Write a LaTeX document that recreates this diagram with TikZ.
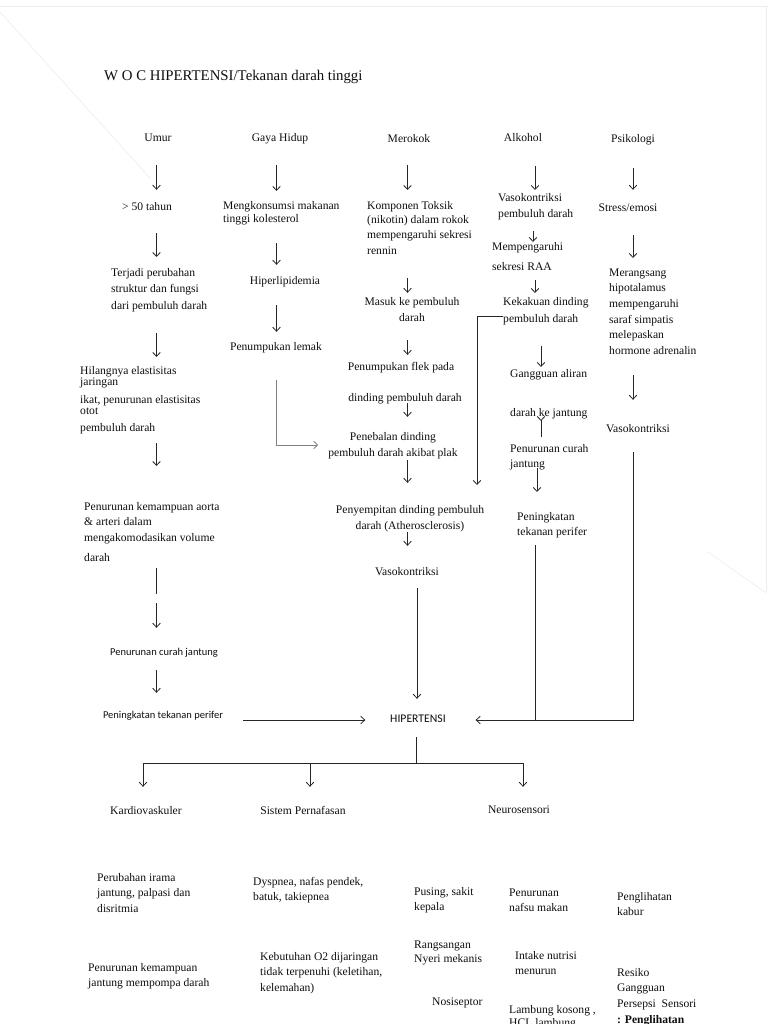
\documentclass[tikz,border=0pt]{standalone}
\usepackage{fontspec}
\setmainfont{Liberation Serif}
\newfontfamily\calfont{Carlito}
\usetikzlibrary{arrows.meta}
\newcommand\bodyf{\fontsize{11.6}{15.6}\selectfont}
\newcommand\sansf{\calfont\fontsize{10.5}{13}\selectfont}
\newcommand\hipf{\calfont\fontsize{11.7}{14}\selectfont}
\newcommand\va[5]{\draw[arr,shorten <=#4pt,shorten >=#5pt] (#1.south -| #3) -- (#2.north -| #3);}
\tikzset{
  txt/.style={inner sep=0pt, font=\bodyf, text=black!94},
  lt/.style={txt, align=left, anchor=north west},
  ct/.style={txt, align=center},
  sf/.style={inner sep=0pt, font=\sansf, text=black!94},
  arr/.style={draw=black!85, line width=0.8pt, -{Straight Barb[length=4pt,width=7.5pt]}},
  ln/.style={draw=black!85, line width=0.8pt},
  faint/.style={draw=black!7, line width=0.6pt}
}
\begin{document}
\begin{tikzpicture}[x=1pt,y=-1pt]
\useasboundingbox (0,0) rectangle (768,1024);
\clip (0,0) rectangle (768,1024);
\fill[white] (0,0) rectangle (768,1024);
% faint page artefacts
\draw[faint] (0,6) -- (768,6);
\draw[faint] (0,12) -- (150,178);
\draw[faint] (766,6) -- (766,592);
\draw[faint] (708,552) -- (766,593);

% axes
\coordinate (c1) at (156.5,0);
\coordinate (c2) at (276.5,0);
\coordinate (c3) at (407.5,0);
\coordinate (c3b) at (417,0);
\coordinate (c4) at (535,0);
\coordinate (c4a) at (533,0);
\coordinate (c4b) at (541,0);
\coordinate (c4c) at (537,0);
\coordinate (c4L) at (477,0);
\coordinate (c5) at (633,0);

% title
\node[txt, anchor=west, font=\fontsize{14.8}{17}\selectfont] (title) at (104,77) {W O C HIPERTENSI/Tekanan darah tinggi};

% headings
\node[ct] (umur) at (158,138) {\strut Umur};
\node[ct] (gaya) at (280,138) {\strut Gaya Hidup};
\node[ct] (rokok) at (409,139) {\strut Merokok};
\node[ct] (alko) at (523,138) {\strut Alkohol};
\node[ct] (psi) at (633,139) {\strut Psikologi};

% column 1
\node[ct] (g50) at (147,207) {\strut > 50 tahun};
\node[lt] (terjadi) at (111,265.2) {\strut Terjadi perubahan\\[0.9pt]\strut struktur dan fungsi\\[0.9pt]\strut dari pembuluh darah};
\node[lt] (hilang) at (80,363.2) {\strut Hilangnya elastisitas\\[-4.6pt]\strut jaringan\\[2.4pt]\strut ikat, penurunan elastisitas\\[-4.6pt]\strut otot\\[1.4pt]\strut pembuluh darah};
\node[lt] (aorta) at (84,499.2) {\strut Penurunan kemampuan aorta\\[-0.6pt]\strut \& arteri dalam\\[0.4pt]\strut mengakomodasikan volume\\[4.4pt]\strut darah};
\node[sf] (pcj1) at (164,653) {\strut Penurunan curah jantung};
\node[sf] (ptp1) at (163,716) {\strut Peningkatan tekanan perifer};

% column 2
\node[lt] (mkm) at (223,198.2) {\strut Mengkonsumsi makanan\\[-2.6pt]\strut tinggi kolesterol};
\node[ct] (hiper) at (285,281) {\strut Hiperlipidemia};
\node[ct] (lemak) at (276,347) {\strut Penumpukan lemak};

% column 3
\node[lt] (komp) at (367,198.2) {\strut Komponen Toksik\\[-1.6pt]\strut (nikotin) dalam rokok\\[-0.6pt]\strut mempengaruhi sekresi\\[0.4pt]\strut rennin};
\node[ct] (masuk) at (412,310) {\strut Masuk ke pembuluh\\[0.4pt]\strut darah};
\node[ct] (flek) at (401,367) {\strut Penumpukan flek pada};
\node[ct] (dind) at (405,398) {\strut dinding pembuluh darah};
\node[ct] (tebal) at (393,445) {\strut Penebalan dinding\\[0.4pt]\strut pembuluh darah akibat plak};
\node[ct] (sempit) at (410,518) {\strut Penyempitan dinding pembuluh\\[0.4pt]\strut darah (Atherosclerosis)};
\node[ct] (vaso3) at (407,572) {\strut Vasokontriksi};

% column 4
\node[lt] (vaso4) at (498,190.2) {\strut Vasokontriksi\\[0.4pt]\strut pembuluh darah};
\node[lt] (mem) at (492,239.2) {\strut Mempengaruhi\\[4.4pt]\strut sekresi RAA};
\node[lt] (kek) at (503,294.2) {\strut Kekakuan dinding\\[1.4pt]\strut pembuluh darah};
\node[lt] (gang) at (510,366.2) {\strut Gangguan aliran\\[23.4pt]\strut darah ke jantung};
\node[lt] (turun) at (510,441.2) {\strut Penurunan curah\\[-0.6pt]\strut jantung};
\node[lt] (ptp4) at (517,509.2) {\strut Peningkatan\\[-0.6pt]\strut tekanan perifer};

% column 5
\node[ct] (stress) at (628,208) {\strut Stress/emosi};
\node[lt] (merang) at (609,265.2) {\strut Merangsang\\\strut hipotalamus\\\strut mempengaruhi\\\strut saraf simpatis\\\strut melepaskan\\\strut hormone adrenalin};
\node[ct] (vaso5) at (638,429) {\strut Vasokontriksi};

% centre
\node[txt, font=\hipf] (hip) at (418,720) {\strut HIPERTENSI};

% column 1 connectors
\va{umur}{g50}{c1}{19.2}{9.2}
\va{g50}{terjadi}{c1}{18.2}{8.2}
\va{terjadi}{hilang}{c1}{19.2}{6.2}
\va{hilang}{aorta}{c1}{7.2}{33.2}
\draw[ln, shorten <=2.2pt, shorten >=52.5pt] (aorta.south -| c1) -- (pcj1.north -| c1);
\va{aorta}{pcj1}{c1}{37.2}{18.5}
\va{pcj1}{ptp1}{c1}{10.5}{16.5}
\draw[arr, shorten <=20pt, shorten >=24.7pt] (ptp1.east |- hip.west) -- (hip.west);

% column 2 connectors
\va{gaya}{mkm}{c2}{19.2}{7.2}
\va{mkm}{hiper}{c2}{16.2}{8.2}
\va{hiper}{lemak}{c2}{16.2}{7.2}
\draw[arr, draw=black!50, shorten <=25pt, shorten >=10pt] (lemak.south -| c2) |- (tebal.west);

% column 3 connectors
\va{rokok}{komp}{c3}{18.2}{8.2}
\va{komp}{masuk}{c3}{19.2}{1.2}
\va{masuk}{flek}{c3}{14.2}{4.2}
\va{dind}{tebal}{c3}{-2.8}{12.2}
\va{tebal}{sempit}{c3}{-0.8}{19.2}
\va{sempit}{vaso3}{c3}{-1.8}{18.2}
\draw[arr, shorten <=8.2pt, shorten >=14pt] (vaso3.south -| c3b) -- (hip.north -| c3b);

% column 4 connectors
\va{alko}{vaso4}{c4}{20.2}{0.2}
\va{vaso4}{mem}{c4a}{9.2}{-2.8}
\va{mem}{kek}{c4}{5.2}{1.2}
\va{kek}{gang}{c4b}{19.2}{-0.8}
\va{gang}{turun}{c4b}{-15.8}{20.2}
\va{turun}{ptp4}{c4c}{-3.8}{17.2}
\draw[ln, shorten <=5.2pt] (ptp4.south -| c4) -- (c4 |- hip);
\draw[arr, shorten >=17pt] ([yshift=-6pt]kek.west) -| (c4L |- sempit.north);

% column 5 connectors
\va{psi}{stress}{c5}{21.2}{10.2}
\va{stress}{merang}{c5}{19.2}{7.2}
\va{merang}{vaso5}{c5}{16.2}{21.2}
\draw[arr, shorten <=15.2pt, shorten >=29.7pt] (vaso5.south -| c5) |- (hip.east);

% branches
\coordinate (bar) at (416,763);
\coordinate (a1) at (143,763);
\coordinate (a2) at (310,763);
\coordinate (a3) at (523,763);
\node[ct] (kard) at (146,811) {\strut Kardiovaskuler};
\node[ct] (pern) at (303,811) {\strut Sistem Pernafasan};
\node[ct] (neuro) at (519,810) {\strut Neurosensori};
\draw[ln, shorten <=10pt] (bar |- hip.south) -- (bar);
\draw[ln] (a1) -- (a3);
\draw[arr, shorten >=16.2pt] (a1) -- (a1 |- kard.north);
\draw[arr, shorten >=16.2pt] (a2) -- (a2 |- pern.north);
\draw[arr, shorten >=15.2pt] (a3) -- (a3 |- neuro.north);

% bottom texts
\node[lt] (b1) at (97,870.2) {\strut Perubahan irama\\\strut jantung, palpasi dan\\\strut disritmia};
\node[lt] (b2) at (253,874.2) {\strut Dyspnea, nafas pendek,\\\strut batuk, takiepnea};
\node[lt] (b3) at (88,960.2) {\strut Penurunan kemampuan\\\strut jantung mempompa darah};
\node[lt] (b4) at (260,949.2) {\strut Kebutuhan O2 dijaringan\\\strut tidak terpenuhi (keletihan,\\\strut kelemahan)};
\node[lt] (b5) at (414,884.2) {\strut Pusing, sakit\\\strut kepala};
\node[lt] (b6) at (509,885.2) {\strut Penurunan\\\strut nafsu makan};
\node[lt] (b7) at (617,889.2) {\strut Penglihatan\\\strut kabur};
\node[lt] (b8) at (414,937.2) {\strut Rangsangan\\[-1.6pt]\strut Nyeri mekanis};
\node[lt] (b9) at (515,948.2) {\strut Intake nutrisi\\\strut menurun};
\node[lt] (b10) at (617,965.2) {\strut Resiko\\\strut Gangguan\\\strut Persepsi~ Sensori\\\strut \textbf{: Penglihatan}};
\node[lt] (b11) at (432,994.2) {\strut Nosiseptor};
\node[lt] (b12) at (509,1002.2) {\strut Lambung kosong ,\\[-2.6pt]\strut HCL lambung};
\end{tikzpicture}
\end{document}
